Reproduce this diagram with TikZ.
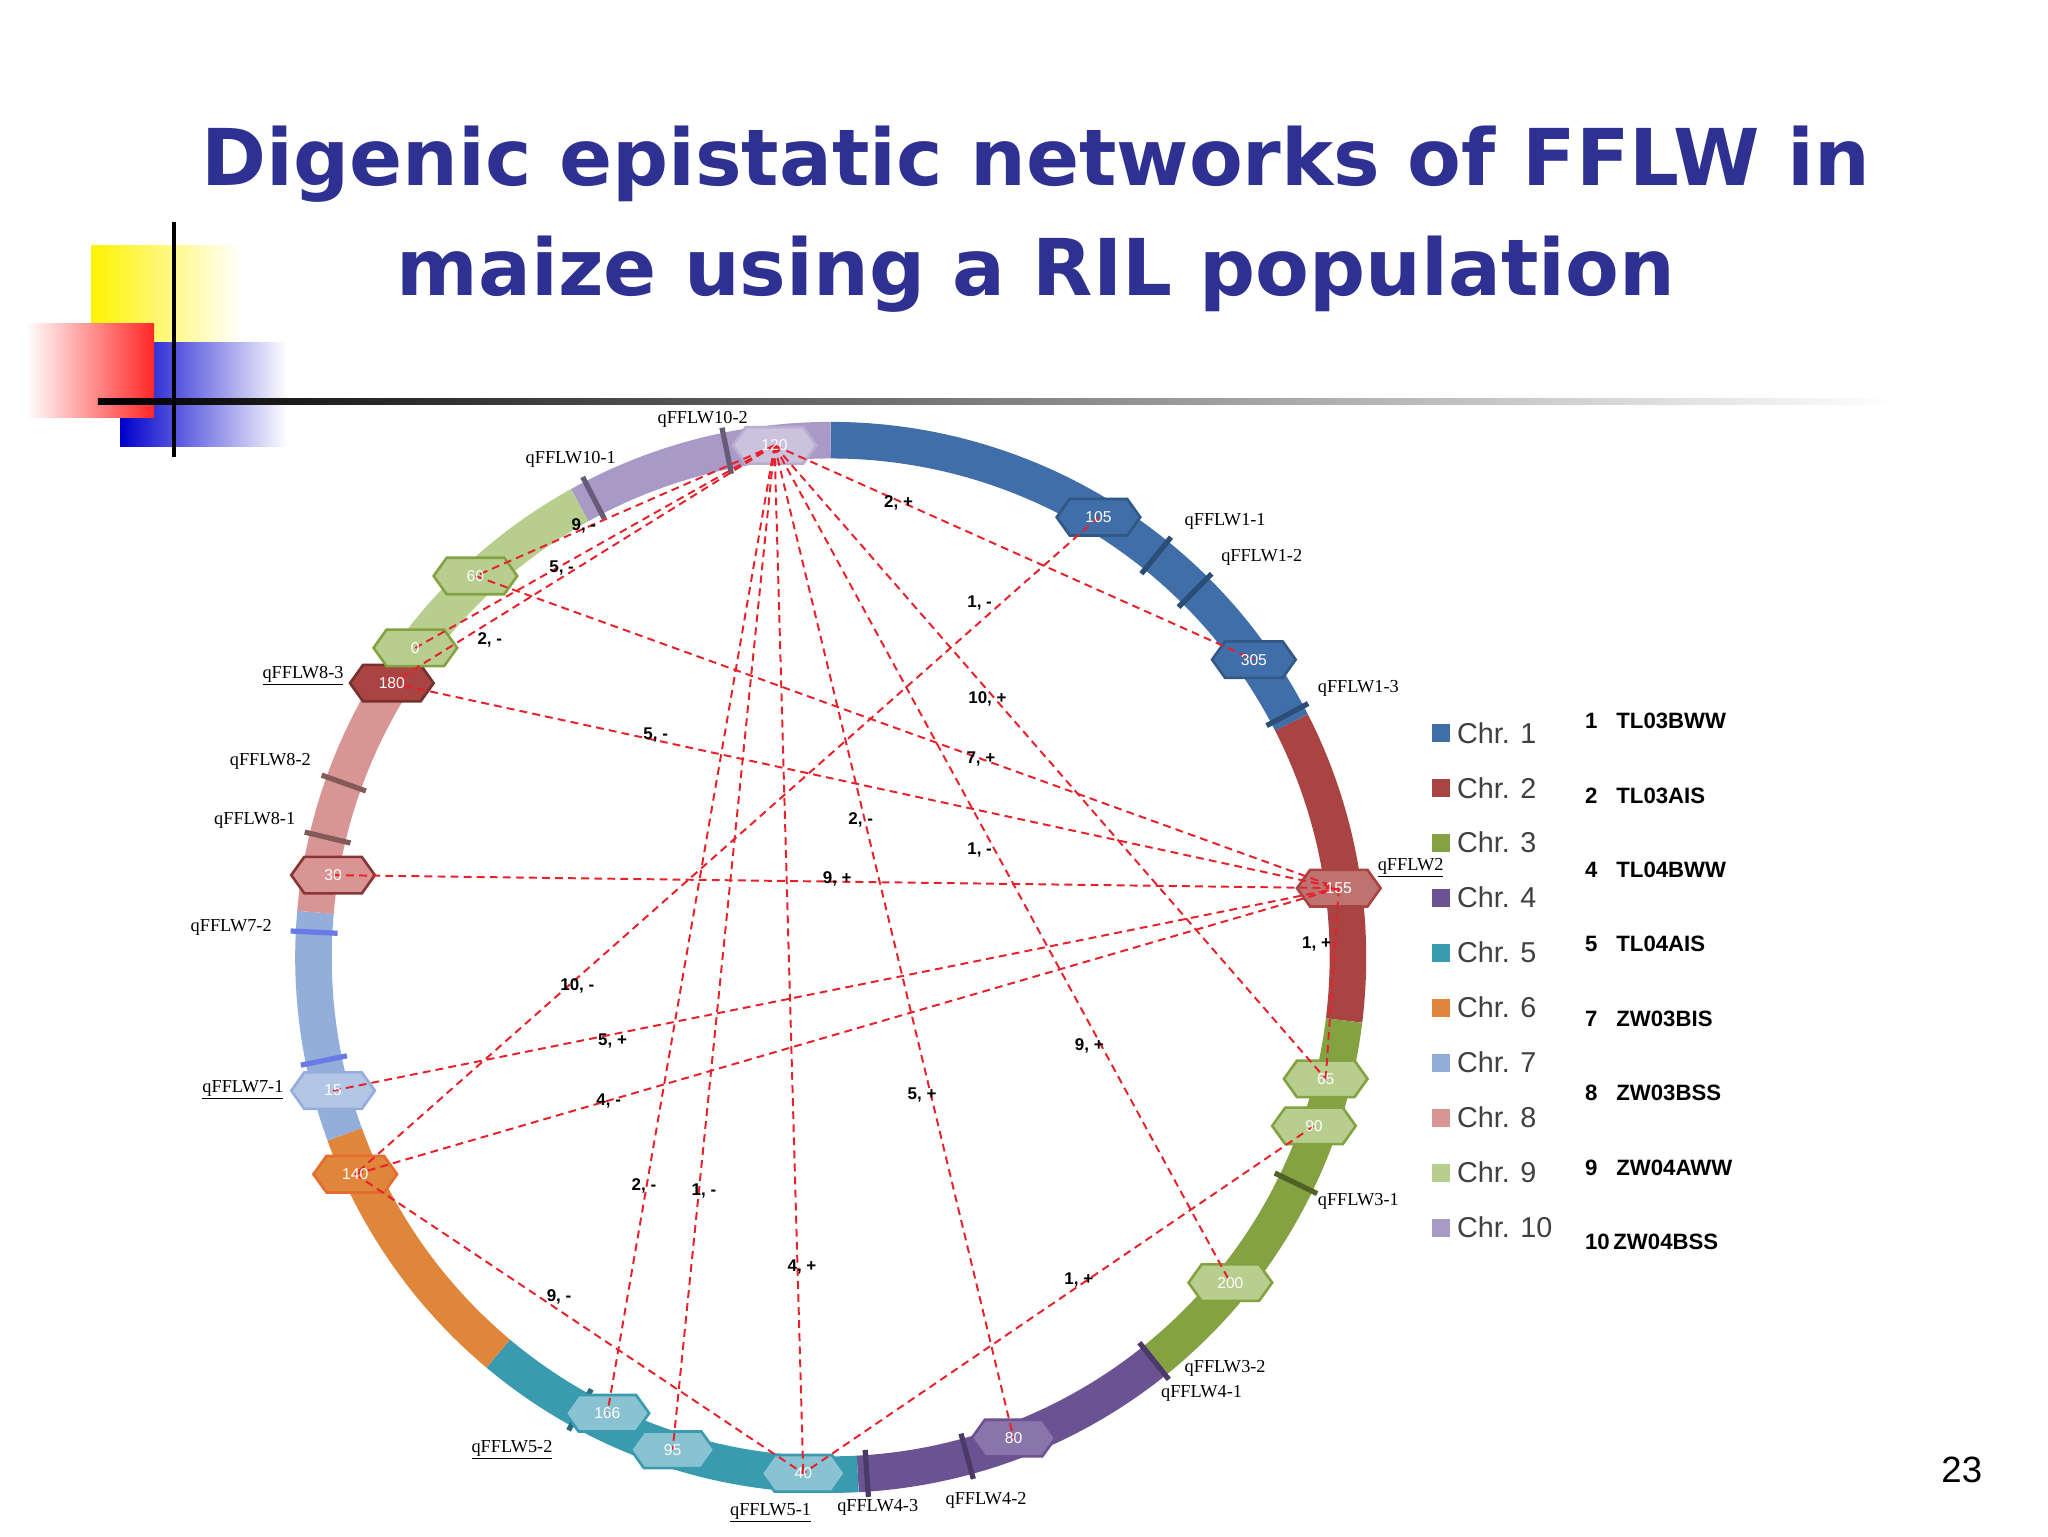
\documentclass[tikz,border=0pt]{standalone}
\usepackage{fontspec}
\setmainfont{Liberation Serif}
\setsansfont{Liberation Sans}
\newfontfamily\titlefont{DejaVu Sans}
\usetikzlibrary{calc,shadings}
\definecolor{cA}{HTML}{3F6EA8}\definecolor{cB}{HTML}{A94442}\definecolor{cC}{HTML}{85A243}
\definecolor{cD}{HTML}{6B5393}\definecolor{cE}{HTML}{3A9AB0}\definecolor{cF}{HTML}{E0863A}
\definecolor{cG}{HTML}{93AEDB}\definecolor{cH}{HTML}{D99593}\definecolor{cI}{HTML}{B7CE8F}
\definecolor{cJ}{HTML}{A899C6}\definecolor{ttl}{HTML}{2E3192}\definecolor{lnk}{HTML}{E8202A}
\newcommand\hexa[6]{\coordinate (#6) at (#1,#2);
 \draw[fill=#3,draw=#4,line width=2pt] (#6) ++(-32,0) -- ++(10,-14) -- ++(44,0) -- ++(10,14) -- ++(-10,14) -- ++(-44,0) -- cycle;}
\newcommand\hlab[2]{\node[font=\sffamily\fontsize{12}{12}\selectfont,text=white] (t#1) at (#1) {#2};}
\tikzset{link/.style={draw=lnk,line width=1.5pt,dash pattern=on 6pt off 4pt},
 lk/.style={font=\sffamily\bfseries\fontsize{13}{13}\selectfont},
 qt/.style={font=\fontsize{14}{14}\selectfont},
 tk/.style={line width=4pt},
 leg/.style={font=\sffamily\fontsize{22}{22}\selectfont,text=black!75,anchor=west},
 tr/.style={font=\sffamily\bfseries\fontsize{17}{17}\selectfont,anchor=west}}
\begin{document}
\begin{tikzpicture}[x=1pt,y=-1pt]
\useasboundingbox (0,0) rectangle (1568,1176);
\fill[white] (0,0) rectangle (1568,1176);
% decoration
\shade[left color=yellow!90!orange,right color=white] (70,188) rectangle (185,262);
\shade[left color=blue!80!black,right color=white] (92,262) rectangle (220,342);
\shade[left color=white,right color=red!85] (20,248) rectangle (118,320);
\shade[left color=black,right color=white] (75,305) rectangle (1450,310);
\draw[line width=3pt] (133,170) -- (133,350);
\node[font=\titlefont\bfseries\fontsize{60}{84}\selectfont,text=ttl,align=center] (title) at (793,168) {Digenic epistatic networks of FFLW in\\maize using a RIL population};
\node[font=\sffamily\fontsize{28}{28}\selectfont] (pg) at (1502,1125) {23};
% ring
\coordinate (c) at (636,733);
\foreach \a/\b/\col in {90/27/cA,27/-7/cB,-7/-51/cC,-51/-87/cD,-87/-130/cE,-130/-160/cF,-160/-185/cG,175/147/cH,147/119/cI,119/90/cJ}{
 \draw[\col,line width=28pt] (c) ++(-\a:396) arc[start angle=-\a,end angle=-\b,radius=396];}
\foreach \a/\col in {101.6/cJ!60!black,117.3/cJ!60!black,51/cA!70!black,45.2/cA!70!black,28/cA!70!black,160.3/cH!60!black,166.6/cH!60!black,177.2/cG!70!blue,-25.9/cC!60!black,-51.3/cD!70!black,-74.7/cD!70!black,-86/cD!70!black,-119/cE!70!black,-168.5/cG!70!blue}{
 \draw[tk,\col] ($(c)+(-\a:378)$) -- ($(c)+(-\a:414)$);}
% hexagons
\hexa{593}{341}{cJ!60}{cJ!80}{}{n120}
\hexa{841}{396}{cA}{cA!80!black}{}{n105}
\hexa{960}{505}{cA}{cA!80!black}{}{n305}
\hexa{1025}{680}{cB!75}{cB}{}{n155}
\hexa{1015}{826}{cI}{cC}{}{n65}
\hexa{1006}{862}{cI}{cC}{}{n90}
\hexa{942}{982}{cI}{cC}{}{n200}
\hexa{776}{1101}{cD!80}{cD}{}{n80}
\hexa{615}{1128}{cE!60}{cE}{}{n40}
\hexa{515}{1110}{cE!60}{cE}{}{n95}
\hexa{465}{1082}{cE!60}{cE}{}{n166}
\hexa{272}{899}{cF}{cF!80!red}{}{n140}
\hexa{255}{835}{cG!70}{cG}{}{n15}
\hexa{255}{670}{cH}{cB!80!black}{}{n30}
\hexa{300}{523}{cB}{cB!70!black}{}{n180}
\hexa{318}{496}{cI}{cC}{}{n0}
\hexa{364}{441}{cI}{cC}{}{n60}
% links
\foreach \t in {n305,n60,n0,n180,n65,n200,n80,n40,n95,n166}{\draw[link] (n120) -- (\t);}
\draw[link] (n105) -- (n140);
\foreach \s in {n60,n180,n30,n15,n140,n65}{\draw[link] (\s) -- (n155);}
\draw[link] (n90) -- (n40);
\draw[link] (n140) -- (n40);
\foreach \n/\l in {n120/120,n105/105,n305/305,n155/155,n65/65,n90/90,n200/200,n80/80,n40/40,n95/95,n166/166,n140/140,n15/15,n30/30,n180/180,n0/0,n60/60}{\hlab{\n}{\l}}
% link labels
\node[lk] (l1) at (688,385) {2, +};
\node[lk] (l2) at (447,403) {9, -};
\node[lk] (l3) at (430,435) {5, -};
\node[lk] (l4) at (375,490) {2, -};
\node[lk] (l5) at (750,462) {1, -};
\node[lk] (l6) at (756,535) {10, +};
\node[lk] (l7) at (502,563) {5, -};
\node[lk] (l8) at (751,581) {7, +};
\node[lk] (l9) at (659,628) {2, -};
\node[lk] (l10) at (750,651) {1, -};
\node[lk] (l11) at (641,673) {9, +};
\node[lk] (l12) at (1008,723) {1, +};
\node[lk] (l13) at (442,755) {10, -};
\node[lk] (l14) at (469,797) {5, +};
\node[lk] (l15) at (834,801) {9, +};
\node[lk] (l16) at (466,843) {4, -};
\node[lk] (l17) at (706,838) {5, +};
\node[lk] (l18) at (493,908) {2, -};
\node[lk] (l19) at (539,912) {1, -};
\node[lk] (l20) at (614,970) {4, +};
\node[lk] (l21) at (826,980) {1, +};
\node[lk] (l22) at (428,993) {9, -};
% qtl labels
\node[qt] (q1) at (538,321) {qFFLW10-2};
\node[qt] (q2) at (437,352) {qFFLW10-1};
\node[qt] (q3) at (938,399) {qFFLW1-1};
\node[qt] (q4) at (966,427) {qFFLW1-2};
\node[qt] (q5) at (1040,527) {qFFLW1-3};
\node[qt] (q6) at (1080,664) {\underline{qFFLW2}};
\node[qt] (q7) at (1040,920) {qFFLW3-1};
\node[qt] (q8) at (938,1048) {qFFLW3-2};
\node[qt] (q9) at (920,1067) {qFFLW4-1};
\node[qt] (q10) at (755,1149) {qFFLW4-2};
\node[qt] (q11) at (672,1154) {qFFLW4-3};
\node[qt] (q12) at (590,1158) {\underline{qFFLW5-1}};
\node[qt] (q13) at (392,1110) {\underline{qFFLW5-2}};
\node[qt] (q14) at (186,834) {\underline{qFFLW7-1}};
\node[qt] (q15) at (177,710) {qFFLW7-2};
\node[qt] (q16) at (195,628) {qFFLW8-1};
\node[qt] (q17) at (207,583) {qFFLW8-2};
\node[qt] (q18) at (232,517) {\underline{qFFLW8-3}};
% legend
\foreach \i/\col [count=\k] in {1/cA,2/cB,3/cC,4/cD,5/cE,6/cF,7/cG,8/cH,9/cI,10/cJ}{
 \fill[\col] (1096,{561+42.1*(\k-1)-7}) rectangle ++(14,14);
 \node[leg] (lg\k) at (1112,{561+42.1*(\k-1)}) {Chr. \i};}
\foreach \n/\t [count=\k] in {1/TL03BWW,2/TL03AIS,4/TL04BWW,5/TL04AIS,7/ZW03BIS,8/ZW03BSS,9/ZW04AWW}{
 \node[tr] (tr\k) at (1210,{552+57*(\k-1)}) {\makebox[24pt][l]{\n}\t};}
\node[tr] (tr8) at (1210,951) {10\,ZW04BSS};
\end{tikzpicture}
\end{document}
